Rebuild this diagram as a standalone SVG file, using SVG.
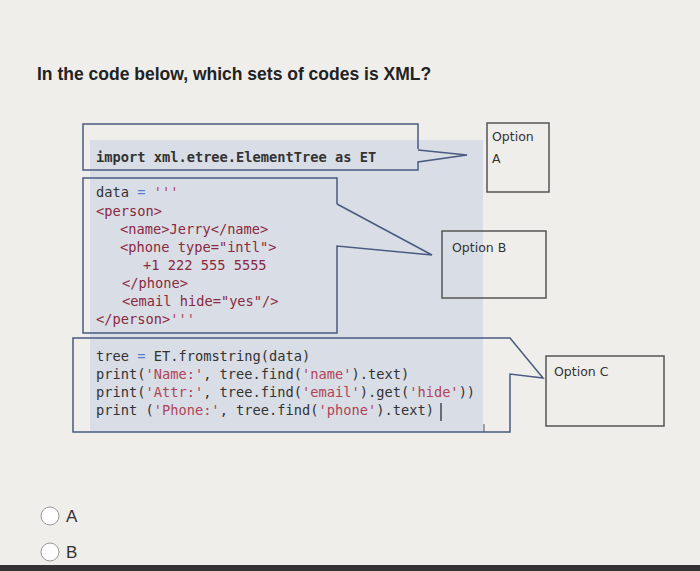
<svg xmlns="http://www.w3.org/2000/svg" width="700" height="571" viewBox="0 0 700 571">
<style>
.code{font-family:"DejaVu Sans Mono",monospace;font-size:13.7px;fill:#333}
.tag{fill:#8a2a40}
.str{fill:#b04458}
.op{fill:#5a7fd0}
.lbl{font-family:"DejaVu Sans","Noto Sans",sans-serif;font-size:12.5px;fill:#333}
.box{fill:none;stroke:#555;stroke-width:1.5}
.call{fill:none;stroke:#4a5a80;stroke-width:1.5}
</style>
<rect width="700" height="571" fill="#efeeea"/>
<text x="37" y="80" font-family="Liberation Sans,Arial,sans-serif" font-size="17.5" font-weight="bold" fill="#222">In the code below, which sets of codes is XML?</text>
<rect x="90" y="140" width="393" height="292" fill="#d9dde5"/>
<g id="optA"><rect class="box" x="487" y="123" width="62" height="69"/><text class="lbl" x="492" y="141">Option</text><text class="lbl" x="492" y="163">A</text></g>
<g id="optB"><rect class="box" x="442" y="231" width="104" height="67"/><text class="lbl" x="452" y="252">Option B</text></g>
<g id="optC"><rect class="box" x="546" y="356" width="118" height="70"/><text class="lbl" x="554" y="376">Option C</text></g>
<g id="connectors">
<path class="call" d="M418,149 V124 H83 V170 H418 V162 L467,155 L418,150"/>
<path class="call" d="M337,204 V178 H83 V333 H337 V246 L432,255 L337,204"/>
<path class="call" d="M543,378 L510,338 H73 V432 H510 V374 Z"/>
</g>
<g id="codeA"><text class="code" x="96" y="162" font-weight="bold">import xml.etree.ElementTree as ET</text></g>
<g id="codeB">
<text class="code" x="96" y="197">data <tspan class="op">=</tspan> <tspan class="str">'''</tspan></text>
<text class="code tag" x="96" y="216">&lt;person&gt;</text>
<text class="code tag" x="120" y="234">&lt;name&gt;Jerry&lt;/name&gt;</text>
<text class="code tag" x="120" y="252">&lt;phone type="intl"&gt;</text>
<text class="code tag" x="143" y="270">+1 222 555 5555</text>
<text class="code tag" x="122" y="288">&lt;/phone&gt;</text>
<text class="code tag" x="122" y="306">&lt;email hide="yes"/&gt;</text>
<text class="code tag" x="96" y="324">&lt;/person&gt;<tspan class="str">'''</tspan></text>
</g>
<g id="codeC">
<text class="code" x="96" y="361">tree <tspan class="op">=</tspan> ET.fromstring(data)</text>
<text class="code" x="96" y="379">print(<tspan class="str">'Name:'</tspan>, tree.find(<tspan class="str">'name'</tspan>).text)</text>
<text class="code" x="96" y="397">print(<tspan class="str">'Attr:'</tspan>, tree.find(<tspan class="str">'email'</tspan>).get(<tspan class="str">'hide'</tspan>))</text>
<text class="code" x="96" y="415">print (<tspan class="str">'Phone:'</tspan>, tree.find(<tspan class="str">'phone'</tspan>).text)</text>
<line x1="441" y1="403" x2="441" y2="421" stroke="#222" stroke-width="1.2"/>
<line x1="484" y1="424" x2="484" y2="432" stroke="#555"/>
</g>
<g id="radios" font-family="Liberation Sans,Arial,sans-serif" font-size="17" fill="#333">
<circle cx="50" cy="516" r="9" fill="#fff" stroke="#999"/>
<circle cx="50" cy="552" r="9" fill="#fff" stroke="#999"/>
<text x="66" y="522">A</text>
<text x="66" y="558">B</text>
</g>
<rect y="565" width="700" height="6" fill="#333"/>
</svg>
